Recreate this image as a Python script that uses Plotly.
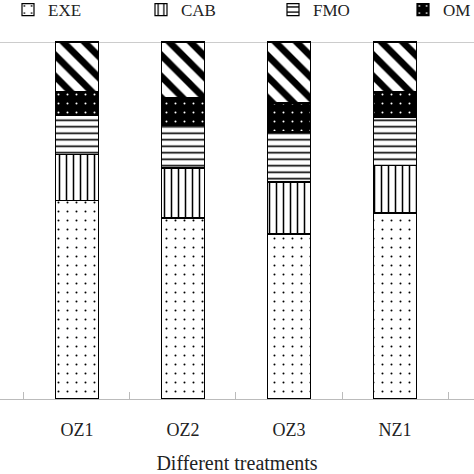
import plotly.graph_objects as go

categories = ["OZ1", "OZ2", "OZ3", "NZ1"]
exe = [55.7, 50.7, 46.2, 52.1]
cab = [12.9, 14.0, 14.6, 13.4]
fmo = [10.9, 12.0, 14.0, 13.4]
om = [6.7, 7.6, 8.1, 7.3]
other = [13.8, 15.7, 17.1, 13.8]

# name, values, bg, pattern shape, fg, size, solidity, legend id, legend text start (px)
series = [
    ("EXE", exe, "white", ".", "black", 9, 0.04, "legend", 48),
    ("CAB", cab, "white", "|", "black", 7, 0.22, "legend2", 181),
    ("FMO", fmo, "white", "-", "black", 6.5, 0.25, "legend3", 313),
    ("OM", om, "black", ".", "white", 9, 0.04, "legend4", 443),
    ("Others", other, "white", "\\", "black", 15, 0.45, None, None),
]

W, H = 474, 474
T, B = 0, 75
plot_h = H - T - B
top_px = 42  # pixel row of the 100 % line
y_max = 100 * plot_h / (plot_h - top_px)

font = "Liberation Serif"
fig = go.Figure()
legends = {}
for name, vals, bg, shape, fg, size, sol, leg, tx in series:
    fig.add_trace(go.Bar(
        x=categories, y=vals, name=name, width=0.4,
        showlegend=leg is not None, legend=leg if leg else "legend",
        marker=dict(color=bg, line=dict(color="black", width=1.2),
                    pattern=dict(shape=shape, fgcolor=fg, bgcolor=bg,
                                 size=size, solidity=sol, fillmode="replace")),
    ))
    if leg:
        legends[leg] = dict(
            x=(tx - 40) / W, xanchor="left", y=1 - 10 / plot_h, yanchor="middle",
            orientation="h", font=dict(family=font, size=17, color="#222"),
            bgcolor="rgba(0,0,0,0)", borderwidth=0, itemwidth=30,
        )

fig.update_layout(
    barmode="stack",
    width=W, height=H,
    margin=dict(l=0, r=0, t=T, b=B, autoexpand=False),
    plot_bgcolor="white", paper_bgcolor="white",
    font=dict(family=font, size=18, color="#222"),
    xaxis=dict(type="category", range=[-0.726, 3.745], tickson="boundaries",
               ticks="inside", ticklen=7, tickcolor="#bbbbbb",
               showline=True, linecolor="#bbbbbb", linewidth=1,
               showgrid=False, ticklabelstandoff=14, automargin=False,
               title=dict(text="Different treatments", font=dict(family=font, size=20),
                          standoff=22)),
    yaxis=dict(range=[0, y_max], showticklabels=False, showline=False,
               tickvals=[100], showgrid=True, gridcolor="#cccccc", gridwidth=1,
               zeroline=False, ticks="", automargin=False),
    **legends,
)

fig.write_html("out.html", config={"displayModeBar": False},
               post_script="document.body.style.margin='0';document.body.style.overflow='hidden';")
